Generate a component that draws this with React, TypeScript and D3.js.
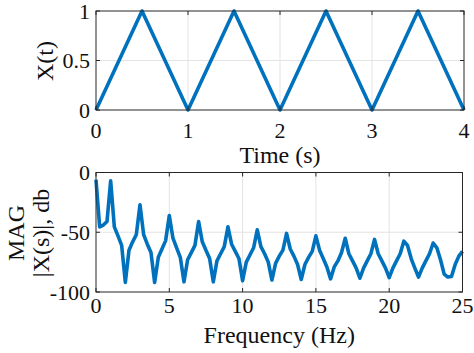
import React from "react";
import * as d3 from "d3";

// Top panel: triangle wave
const timeS = [0, 0.5, 1, 1.5, 2, 2.5, 3, 3.5, 4];
const xOfT = [0, 1, 0, 1, 0, 1, 0, 1, 0];
const timeTicks = [0, 1, 2, 3, 4];
const xtTicks = [0, 0.5, 1];

// Bottom panel: magnitude spectrum (dB), sampled every 0.25 Hz from 0 to 25 Hz
const freqStep = 0.25;
const magDb = [
  -6, -45.5, -44, -41, -7, -45.5, -53, -61,
  -92, -65, -58, -52, -27, -52, -60, -67,
  -92, -71, -64, -57, -36, -55, -63, -71,
  -91.5, -73, -67, -61, -41, -58, -65, -72,
  -91.5, -74, -68, -62, -45.5, -60, -66, -72,
  -90.5, -75, -69, -63, -48, -62, -68, -75,
  -90, -76, -70, -65, -51, -64, -70, -77,
  -89.5, -77, -71, -66, -53, -65, -72, -79,
  -89, -79, -74, -67, -55, -68, -74, -80,
  -88.5, -80, -74, -68, -56, -68, -74, -80,
  -88, -80, -74, -68, -57.5, -61, -72, -80,
  -87.5, -80, -74, -68, -59, -63, -73, -85,
  -87.5, -87, -77, -70, -66,
];
const freqTicks = [0, 5, 10, 15, 20, 25];
const magTicks = [-100, -50, 0];

const BLUE = "#0072BD";
const AXIS = "#262626";
const GRID = "#e3e3e3";
const FONT = "Liberation Serif";
const fontStyle = { fontFamily: FONT };

type PanelProps = {
  x0: number; x1: number; y0: number; y1: number;
  xDomain: [number, number]; yDomain: [number, number];
  xTicks: number[]; yTicks: number[];
  xs: number[]; ys: number[];
  xLabel: string; xLabelY: number; xTickY: number;
  yLabels: { text: string; x: number }[]; yLabelCy: number;
};

function Panel(p: PanelProps) {
  const xs = d3.scaleLinear().domain(p.xDomain).range([p.x0, p.x1]);
  const ys = d3.scaleLinear().domain(p.yDomain).range([p.y1, p.y0]);
  const pts: [number, number][] = p.xs.map((v, i) => [v, p.ys[i]]);
  const line = d3.line<[number, number]>().x((d) => xs(d[0])).y((d) => ys(d[1]));
  const tl = 4;
  return (
    <g>
      {p.xTicks.slice(1, -1).map((t) => (
        <line key={"gx" + t} x1={xs(t)} x2={xs(t)} y1={p.y0} y2={p.y1} stroke={GRID} strokeWidth={1} />
      ))}
      {p.yTicks.slice(1, -1).map((t) => (
        <line key={"gy" + t} x1={p.x0} x2={p.x1} y1={ys(t)} y2={ys(t)} stroke={GRID} strokeWidth={1} />
      ))}
      <path d={line(pts) || ""} fill="none" stroke={BLUE} strokeWidth={3.6} strokeLinejoin="round" strokeLinecap="butt" />
      <rect x={p.x0} y={p.y0} width={p.x1 - p.x0} height={p.y1 - p.y0} fill="none" stroke={AXIS} strokeWidth={1} />
      {p.xTicks.map((t) => (
        <line key={"tx" + t} x1={xs(t)} x2={xs(t)} y1={p.y1} y2={p.y1 - tl} stroke={AXIS} />
      ))}
      {p.xTicks.map((t) => (
        <line key={"tx2" + t} x1={xs(t)} x2={xs(t)} y1={p.y0} y2={p.y0 + tl} stroke={AXIS} />
      ))}
      {p.yTicks.map((t) => (
        <line key={"ty" + t} x1={p.x0} x2={p.x0 + tl} y1={ys(t)} y2={ys(t)} stroke={AXIS} />
      ))}
      {p.yTicks.map((t) => (
        <line key={"ty2" + t} x1={p.x1} x2={p.x1 - tl} y1={ys(t)} y2={ys(t)} stroke={AXIS} />
      ))}
      {p.xTicks.map((t) => (
        <text key={"lx" + t} x={xs(t)} y={p.xTickY} textAnchor="middle" fontFamily={FONT} style={fontStyle} fontSize={22} fill="#111">
          {String(t)}
        </text>
      ))}
      {p.yTicks.map((t) => (
        <text key={"ly" + t} x={p.x0 - 6} y={ys(t) + 7.5} textAnchor="end" fontFamily={FONT} style={fontStyle} fontSize={22} fill="#111">
          {String(t)}
        </text>
      ))}
      <text x={(p.x0 + p.x1) / 2} y={p.xLabelY} textAnchor="middle" fontFamily={FONT} style={fontStyle} fontSize={24} fill="#111">
        {p.xLabel}
      </text>
      {p.yLabels.map((l) => (
        <text key={l.text} transform={`translate(${l.x},${p.yLabelCy}) rotate(-90)`} textAnchor="middle"
          fontFamily={FONT} style={fontStyle} fontSize={24} fill="#111">
          {l.text}
        </text>
      ))}
    </g>
  );
}

export default function App() {
  const freqs = magDb.map((_, i) => i * freqStep);
  return (
    <svg width={474} height={353} fontFamily={FONT}
      style={{ position: "absolute", left: 0, top: 0, fontFamily: FONT, background: "#fff" }}>
      <Panel
        x0={96} x1={464} y0={11} y1={110}
        xDomain={[0, 4]} yDomain={[0, 1]}
        xTicks={timeTicks} yTicks={xtTicks}
        xs={timeS} ys={xOfT}
        xLabel="Time (s)" xLabelY={163} xTickY={138}
        yLabels={[{ text: "X(t)", x: 53 }]} yLabelCy={61}
      />
      <Panel
        x0={96} x1={462.5} y0={172.5} y1={292}
        xDomain={[0, 25]} yDomain={[-100, 0]}
        xTicks={freqTicks} yTicks={magTicks}
        xs={freqs} ys={magDb}
        xLabel="Frequency (Hz)" xLabelY={343} xTickY={313}
        yLabels={[{ text: "MAG", x: 24 }, { text: "|X(s)|, db", x: 49 }]} yLabelCy={233}
      />
    </svg>
  );
}
